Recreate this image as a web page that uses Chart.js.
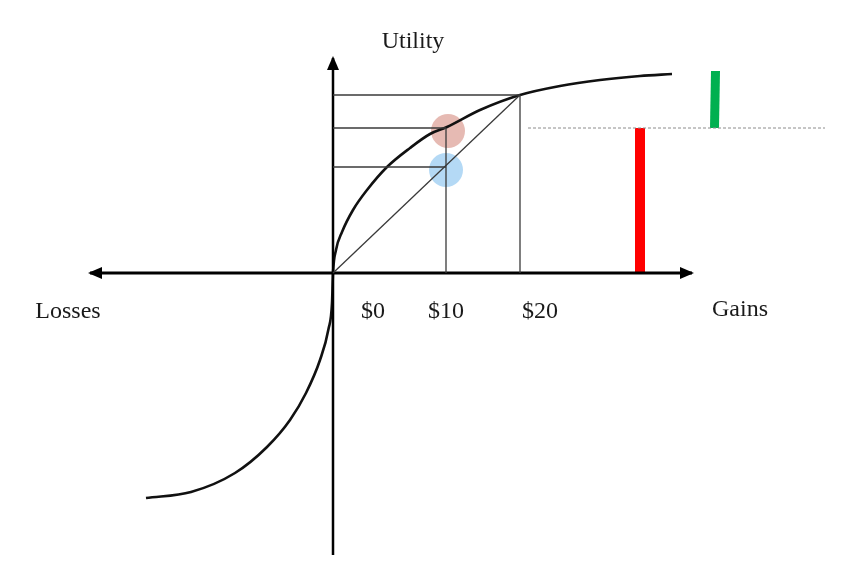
<!DOCTYPE html>
<html>
<head>
<meta charset="utf-8">
<script src="https://cdn.jsdelivr.net/npm/chart.js@4.4.1/dist/chart.umd.min.js"></script>
<style>
  html, body { margin: 0; padding: 0; background: #fff; }
  #wrap { width: 847px; height: 579px; position: relative; }
</style>
</head>
<body>
<div id="wrap"><canvas id="chart"></canvas></div>
<script>
// value function (schematic units, origin = reference point)
const curveX = [-18.7, -14.2, -9.8, -6.6, -4.3, -2.7, -1.3, -0.45, -0.1, 0, 0.3, 0.9, 2.0, 3.4, 5.4, 7.7, 9.7, 11.4, 14.7, 18.7, 22.7, 26.7, 30.7, 33.9];
const curveY = [-22.5, -21.9, -20.0, -17.4, -14.7, -12.0, -8.7, -5.6, -3.0, 0, 2.3, 4.1, 6.3, 8.3, 10.6, 12.5, 13.9, 14.6, 16.3, 17.8, 18.7, 19.3, 19.7, 19.9];

// axes extent
const xAxisX = [-24.3, 35.9];
const yAxisY = [-28.2, 21.5];

// helper lines
const levelY = [17.8, 14.5, 10.6];
const levelEnd = [18.7, 11.3, 11.3];
const dropX = [11.3, 18.7];
const dropTop = [14.5, 17.8];
const chordX = [0, 18.7];
const chordY = [0, 17.8];

// highlighted points (pink = utility of sure $10, blue = expected utility)
const markX = [11.5, 11.3];
const markY = [14.2, 10.3];

// comparison bars
const barX = [30.7, 38.2];
const barBottom = [0, 14.5];
const barTop = [14.5, 20.2];
const refLineX = [19.5, 49.2];
const refLineY = 14.5;

// labels
const tickLabels = ['$0', '$10', '$20'];
const tickX = [4.0, 11.3, 20.7];
const yTitle = 'Utility';
const leftTitle = 'Losses';
const rightTitle = 'Gains';

function pts(xs, ys) {
    return xs.map((x, i) => ({ x: x, y: ys[i] }));
}

const thin = { borderColor: '#3a3a3a', borderWidth: 1.3, pointRadius: 0, showLine: true, fill: false };

const datasets = [];

// circles first so the lines stay visible on top
datasets.push({
    data: [{ x: markX[0], y: markY[0] }],
    pointRadius: 17, pointBackgroundColor: 'rgba(214,140,128,0.6)', pointBorderWidth: 0, order: 10
});
datasets.push({
    data: [{ x: markX[1], y: markY[1] }],
    pointRadius: 17, pointBackgroundColor: 'rgba(140,196,240,0.65)', pointBorderWidth: 0, order: 10
});

levelY.forEach((y, i) => {
    datasets.push(Object.assign({}, thin, { data: pts([0, levelEnd[i]], [y, y]) }));
});
dropX.forEach((x, i) => {
    datasets.push(Object.assign({}, thin, { data: pts([x, x], [0, dropTop[i]]) }));
});
datasets.push(Object.assign({}, thin, { data: pts(chordX, chordY) }));

datasets.push({
    data: pts(refLineX, [refLineY, refLineY]),
    showLine: true, borderColor: '#8c8c8c', borderWidth: 1, borderDash: [3, 2], pointRadius: 0
});

// axes
datasets.push({ data: pts(xAxisX, [0, 0]), showLine: true, borderColor: '#000', borderWidth: 3, pointRadius: 0 });
datasets.push({ data: pts([0, 0], yAxisY), showLine: true, borderColor: '#000', borderWidth: 2.5, pointRadius: 0 });

// value curve
datasets.push({
    data: pts(curveX, curveY),
    showLine: true, borderColor: '#111', borderWidth: 2.6, pointRadius: 0, cubicInterpolationMode: 'monotone'
});

// bars
datasets.push({
    data: pts([barX[0], barX[0]], [barBottom[0], barTop[0]]),
    showLine: true, borderColor: '#ff0000', borderWidth: 10, borderCapStyle: 'butt', pointRadius: 0
});
datasets.push({
    data: pts([barX[1] - 0.05, barX[1] + 0.05], [barBottom[1], barTop[1]]),
    showLine: true, borderColor: '#00b050', borderWidth: 9, borderCapStyle: 'butt', pointRadius: 0
});

const decorations = {
    id: 'decorations',
    afterDatasetsDraw(chart) {
        const ctx = chart.ctx;
        const xs = chart.scales.x, ys = chart.scales.y;
        const ox = xs.getPixelForValue(0), oy = ys.getPixelForValue(0);

        function head(tx, ty, dx, dy) {
            // dx,dy: unit direction of arrow
            const len = 14, half = 6;
            ctx.beginPath();
            ctx.moveTo(tx, ty);
            ctx.lineTo(tx - dx * len - dy * half, ty - dy * len + dx * half);
            ctx.lineTo(tx - dx * len + dy * half, ty - dy * len - dx * half);
            ctx.closePath();
            ctx.fill();
        }
        ctx.save();
        ctx.fillStyle = '#000';
        head(xs.getPixelForValue(xAxisX[1]) + 2, oy, 1, 0);
        head(xs.getPixelForValue(xAxisX[0]) - 2, oy, -1, 0);
        head(ox, ys.getPixelForValue(yAxisY[1]) - 2, 0, -1);

        ctx.font = '24px "Liberation Serif", "DejaVu Serif", serif';
        ctx.fillStyle = '#1a1a1a';
        ctx.textAlign = 'center';
        ctx.textBaseline = 'middle';
        const labelY = oy + 39;
        tickLabels.forEach((t, i) => ctx.fillText(t, xs.getPixelForValue(tickX[i]), labelY));
        ctx.fillText(leftTitle, 68, labelY);
        ctx.fillText(rightTitle, 740, labelY - 2);
        ctx.fillText(yTitle, ox + 80, 42);
        ctx.restore();
    }
};

new Chart(document.getElementById('chart'), {
    type: 'scatter',
    data: { datasets: datasets },
    options: {
        responsive: true,
        maintainAspectRatio: false,
        animation: false,
        layout: { padding: 0, autoPadding: false },
        scales: {
            x: { type: 'linear', min: -33.3, max: 51.4, display: false },
            y: { type: 'linear', min: -30.6, max: 27.3, display: false }
        },
        plugins: { legend: { display: false }, tooltip: { enabled: false } }
    },
    plugins: [decorations]
});
</script>
</body>
</html>
